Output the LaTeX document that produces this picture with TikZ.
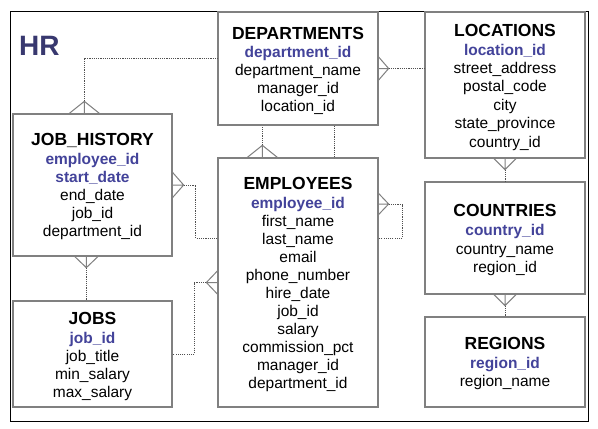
\documentclass[tikz,border=0pt]{standalone}
\usepackage{fontspec}
\setmainfont{Liberation Sans}
\usetikzlibrary{fit,calc}
\definecolor{hrblue}{HTML}{38386F}
\definecolor{keyblue}{HTML}{43439A}
\definecolor{boxgray}{HTML}{808080}
\definecolor{linegray}{HTML}{505050}
\tikzset{
 tbl/.style={draw=boxgray, line width=1.3pt, fill=white, inner sep=0pt, rectangle},
 ttl/.style={font=\fontsize{17.5}{20}\selectfont\bfseries, anchor=base, inner sep=0pt},
 keyf/.style={font=\fontsize{15.5}{18}\selectfont\bfseries, text=keyblue, anchor=base, inner sep=0pt},
 fld/.style={font=\fontsize{15.5}{18}\selectfont, anchor=base, inner sep=0pt},
 rel/.style={draw=linegray, line width=0.9pt, dash pattern=on 1.1pt off 1.1pt},
 crow/.style={draw=boxgray, line width=1pt},
}
\begin{document}
\begin{tikzpicture}[x=1pt,y=-1pt]
\useasboundingbox (0,0) rectangle (598,429);
\fill[white] (0,0) rectangle (598,429);
\draw[black, line width=0.9pt] (10,11) rectangle (588,421);
\node[anchor=base west, font=\fontsize{28}{30}\selectfont\bfseries, text=hrblue, inner sep=0pt] (hr) at (19,55) {HR};

% tables
\node[tbl, fit={(218,12) (378,125)}] (dept) {};
\node[tbl, fit={(425,12) (585,158)}] (loc) {};
\node[tbl, fit={(13,114) (172,256)}] (jh) {};
\node[tbl, fit={(218,158) (378,407)}] (emp) {};
\node[tbl, fit={(425,182) (585,294)}] (ctry) {};
\node[tbl, fit={(425,317) (585,407)}] (reg) {};
\node[tbl, fit={(13,301) (172,407)}] (jobs) {};

% DEPARTMENTS
\node[ttl] (dept-t) at (298,39.5) {DEPARTMENTS};
\node[keyf] (dept-k) at (298,57) {department\_id};
\foreach \f [count=\i] in {department\_name,manager\_id,location\_id}
  \node[fld] (dept-f\i) at (298,{75+18*(\i-1)}) {\f};

% LOCATIONS
\node[ttl] (loc-t) at (505,36.5) {LOCATIONS};
\node[keyf] (loc-k) at (505,55) {location\_id};
\foreach \f [count=\i] in {street\_address,postal\_code,city,state\_province,country\_id}
  \node[fld] (loc-f\i) at (505,{73+18.5*(\i-1)}) {\f};

% JOB_HISTORY
\node[ttl] (jh-t) at (92.5,145) {JOB\_HISTORY};
\node[keyf] (jh-k1) at (92.5,164) {employee\_id};
\node[keyf] (jh-k2) at (92.5,182) {start\_date};
\foreach \f [count=\i] in {end\_date,job\_id,department\_id}
  \node[fld] (jh-f\i) at (92.5,{200+18*(\i-1)}) {\f};

% EMPLOYEES
\node[ttl] (emp-t) at (298,189) {EMPLOYEES};
\node[keyf] (emp-k) at (298,208) {employee\_id};
\foreach \f [count=\i] in {first\_name,last\_name,email,phone\_number,hire\_date,job\_id,salary,commission\_pct,manager\_id,department\_id}
  \node[fld] (emp-f\i) at (298,{226+18.1*(\i-1)}) {\f};

% COUNTRIES
\node[ttl] (ctry-t) at (505,216) {COUNTRIES};
\node[keyf] (ctry-k) at (505,235) {country\_id};
\node[fld] (ctry-f1) at (505,254) {country\_name};
\node[fld] (ctry-f2) at (505,272) {region\_id};

% REGIONS
\node[ttl] (reg-t) at (505,349) {REGIONS};
\node[keyf] (reg-k) at (505,368) {region\_id};
\node[fld] (reg-f1) at (505,386) {region\_name};

% JOBS
\node[ttl] (jobs-t) at (92.5,324) {JOBS};
\node[keyf] (jobs-k) at (92.5,343) {job\_id};
\foreach \f [count=\i] in {job\_title,min\_salary,max\_salary}
  \node[fld] (jobs-f\i) at (92.5,{361+18*(\i-1)}) {\f};

% ---------- relationships ----------
% JOB_HISTORY -> DEPARTMENTS
\coordinate (a1) at ($(jh.north west)+(72,0)$);
\coordinate (a1x) at ($(a1)+(0,-12)$);
\draw[crow] ($(a1)+(-15,0)$) -- (a1x) -- ($(a1)+(15,0)$) (a1) -- (a1x);
\draw[rel] (a1x) |- ($(dept.west)+(0,-10.5)$);

% DEPARTMENTS -> LOCATIONS
\coordinate (a2x) at ($(dept.east)+(10,0)$);
\draw[crow] ($(dept.east)+(0,-11.5)$) -- (a2x) -- ($(dept.east)+(0,11.5)$) (dept.east) -- (a2x);
\draw[rel] (a2x) -- (a2x -| loc.west);

% DEPARTMENTS -> EMPLOYEES (department)
\coordinate (a3) at ($(emp.north west)+(45,0)$);
\coordinate (a3x) at ($(a3)+(0,-12)$);
\draw[crow] ($(a3)+(-15,0)$) -- (a3x) -- ($(a3)+(15,0)$) (a3) -- (a3x);
\draw[rel] (a3x) -- (a3x |- dept.south);

% DEPARTMENTS -> EMPLOYEES (manager)
\coordinate (a4) at ($(emp.north west)+(117,0)$);
\draw[rel] (a4) -- (a4 |- dept.south);

% LOCATIONS -> COUNTRIES
\coordinate (a5x) at ($(loc.south)+(0,11)$);
\draw[crow] ($(loc.south)+(-11,0)$) -- (a5x) -- ($(loc.south)+(11,0)$) (loc.south) -- (a5x);
\draw[rel] (a5x) -- (ctry.north);

% COUNTRIES -> REGIONS
\coordinate (a6x) at ($(ctry.south)+(0,11)$);
\draw[crow] ($(ctry.south)+(-11,0)$) -- (a6x) -- ($(ctry.south)+(11,0)$) (ctry.south) -- (a6x);
\draw[rel] (a6x) -- (reg.north);

% JOB_HISTORY -> EMPLOYEES
\coordinate (a7x) at ($(jh.east)+(11,0)$);
\draw[crow] ($(jh.east)+(0,-12.5)$) -- (a7x) -- ($(jh.east)+(0,12.5)$) (jh.east) -- (a7x);
\draw[rel] (a7x) -- ++(12,0) |- ($(emp.west)+(0,-44.5)$);

% EMPLOYEES -> EMPLOYEES (manager)
\coordinate (a8) at ($(emp.east)+(0,-78.5)$);
\coordinate (a8x) at ($(a8)+(10,0)$);
\draw[crow] ($(a8)+(0,-10.5)$) -- (a8x) -- ($(a8)+(0,10.5)$) (a8) -- (a8x);
\draw[rel] (a8x) -- ++(14,0) |- ($(emp.east)+(0,-44.5)$);

% JOBS -> EMPLOYEES
\coordinate (a9x) at ($(emp.west)+(-11,0)$);
\draw[crow] ($(emp.west)+(0,-11.5)$) -- (a9x) -- ($(emp.west)+(0,11.5)$) (emp.west) -- (a9x);
\draw[rel] (a9x) -- ++(-12,0) |- (jobs.east);

% JOB_HISTORY -> JOBS
\coordinate (a10) at ($(jh.south west)+(74,0)$);
\coordinate (a10x) at ($(a10)+(0,11)$);
\draw[crow] ($(a10)+(-11.5,0)$) -- (a10x) -- ($(a10)+(11.5,0)$) (a10) -- (a10x);
\draw[rel] (a10x) -- (a10x |- jobs.north);
\end{tikzpicture}
\end{document}
